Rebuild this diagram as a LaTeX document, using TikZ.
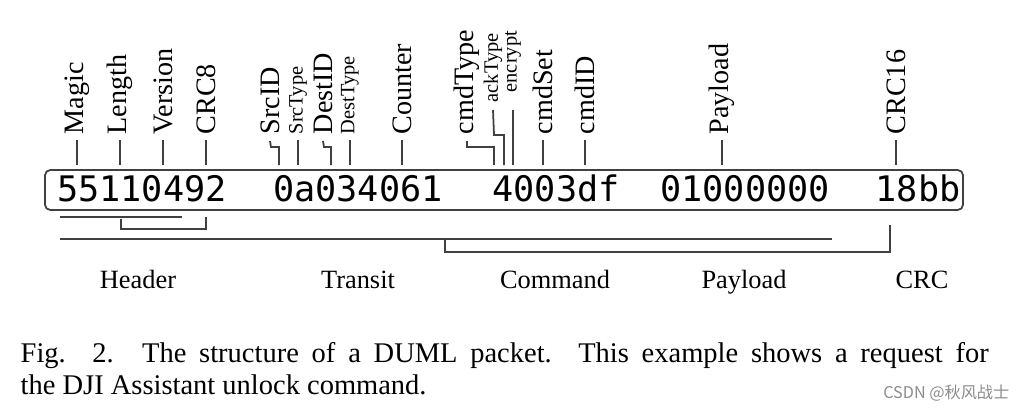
\documentclass[tikz,border=0pt]{standalone}
\usepackage{fontspec}
\setmainfont{Liberation Serif}
\newfontfamily\hexfont{DejaVu Sans Mono}
\newfontfamily\cjk{Noto Sans CJK SC}
\begin{document}
\begin{tikzpicture}[x=0.01cm,y=-0.01cm,
  ln/.style={line width=0.5pt, draw=black!75},
  lab/.style={rotate=90, anchor=west, inner sep=0pt, font=\fontsize{8}{9}\selectfont},
  slab/.style={lab, font=\fontsize{5.8}{6}\selectfont},
  hex/.style={font=\hexfont\fontsize{10}{12}\selectfont, inner sep=0pt, anchor=base},
  grp/.style={font=\fontsize{7.5}{9}\selectfont, inner sep=0pt, anchor=base}]
\useasboundingbox (0,0) rectangle (1016,412);
\draw[ln, rounded corners=1.5pt] (45,170) rectangle (963,210);
\node[hex] (h1) at (142,201) {55110492};
\node[hex] (h2) at (358,201) {0a034061};
\node[hex] (h3) at (556,201) {4003df};
\node[hex] (h4) at (745,201) {01000000};
\node[hex] (h5) at (918,201) {18bb};
% labels
\node[lab] (magic) at (77,135) {Magic};
\node[lab] (length) at (120,135) {Length};
\node[lab] (version) at (163,135) {Version};
\node[lab] (crc8) at (206,135) {CRC8};
\node[lab] (srcid) at (270,135) {SrcID};
\node[slab] (srctype) at (298,135) {SrcType};
\node[lab] (destid) at (323,135) {DestID};
\node[slab] (desttype) at (350,135) {DestType};
\node[lab] (counter) at (402,135) {Counter};
\node[lab] (cmdtype) at (467,135) {cmdType};
\node[slab] (acktype) at (493,103) {ackType};
\node[slab] (encrypt) at (513,93) {encrypt};
\node[lab] (cmdset) at (543,135) {cmdSet};
\node[lab] (cmdid) at (585,135) {cmdID};
\node[lab] (payload) at (722,135) {Payload};
\node[lab] (crc16) at (896,135) {CRC16};
% ticks
\foreach \n/\x in {magic/77,length/120,version/163,crc8/206,srctype/298,desttype/350,counter/402,cmdset/543,cmdid/585,payload/722,crc16/896}
  \draw[ln] (\n.west |- 0,140) -- (\n.west |- 0,165);
\draw[ln] (srcid.west |- 0,141) -- (271,147) -- (279,147) -- (279,165);
\draw[ln] (destid.west |- 0,141) -- (324,147) -- (331,147) -- (331,165);
\draw[ln] (cmdtype.west |- 0,141) -- (467,147) -- (494,147) -- (494,165);
\draw[ln] (acktype.west |- 0,110) -- (494,135) -- (504,135) -- (504,165);
\draw[ln] (encrypt.west |- 0,110) -- (513,165);
% below
\draw[ln] (60,217) -- (182,217);
\draw[ln] (121,219) -- (121,229) -- (206,229) -- (206,217);
\draw[ln] (60,239) -- (832,239);
\draw[ln] (445,239) -- (445,252) -- (890,252) -- (890,225);
\node[grp] (header) at (138,288) {Header};
\node[grp] (transit) at (358,288) {Transit};
\node[grp] (command) at (555,288) {Command};
\node[grp] (payl) at (744,288) {Payload};
\node[grp] (crc) at (922,288) {CRC};
\node[anchor=north west, inner sep=0pt, text width=968*0.01cm, align=justify,
  font=\fontsize{8.1}{9.1}\selectfont] (cap) at (20,342)
  {Fig. 2.\quad The structure of a DUML packet. This example shows a request for\linebreak the DJI Assistant unlock command.};
\node[anchor=east, inner sep=0pt, text=black!45, font=\cjk\fontsize{4.6}{5}\selectfont] (wm) at (1010,393) {CSDN @秋风战士};
\end{tikzpicture}
\end{document}
